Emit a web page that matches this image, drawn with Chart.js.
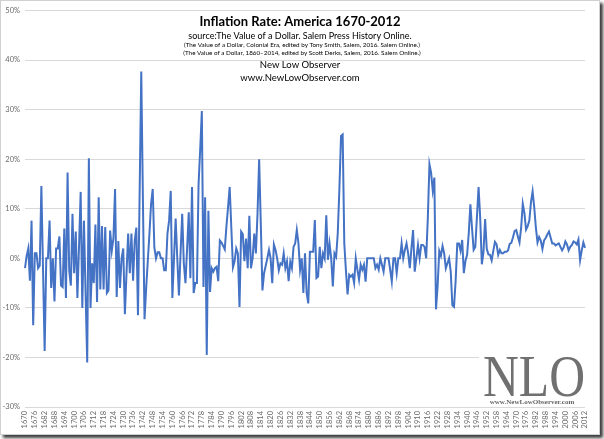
<!DOCTYPE html>
<html>
<head>
<meta charset="utf-8">
<script src="https://cdn.jsdelivr.net/npm/chart.js@4.4.0/dist/chart.umd.min.js"></script>
<style>
  html, body { margin: 0; padding: 0; background: #fff; }
  #frame { position: absolute; left: 0; top: 0; width: 598px; height: 433px; border: 1px solid #d0d0d0; box-shadow: 3px 3px 3px #3a3a3a; background: #fff; }
  canvas { display: block; }
</style>
</head>
<body>
<div id="frame"><canvas id="chart-inflation" width="598" height="433"></canvas></div>
<script>
// Data
var firstYear = 1670;
var lastYear = 2012;
var labelEvery = 6;

// inflation rate in %, one value per year, one row per decade
var inflation = [
    -2, 0.5, 2, -4.5, 7.6, -13.5, 1, 1, -2, -1.5,            // 1670
    14.6, -2, -18.7, 0, 0, 7.6, -6, 0, -8.7, 2,             // 1680
    2, 4.4, -5.5, -5.8, 6, -8, 17.3, -2.5, -5.5, 9,         // 1690
    -3, 5.4, -8, 2.5, 13.4, -10, 7.6, -7, -21, 20.2,        // 1700
    -10, -1, -5, 6.8, -8.8, 12.3, -6.3, 6.5, -6.3, 6.3,     // 1710
    -7, -6.5, 5.6, 1.5, 4, 14, -7.8, 3.5, -6, 0,            // 1720
    2, -11.3, -3, 5, -3, 5, -4.5, 3.5, 6.2, -11.5,          // 1730
    13, 37.7, 12, -12.3, -6, -0.5, 5, 11, 14, 2.2,          // 1740
    0, 1.2, 1.2, 0, 0, -2.4, -2.4, 5, 7.6, 13.6,            // 1750
    -8, 0, 8, 0, -7.5, 1, 9, -1, -5, 2,                     // 1760
    9.3, -4, 14.4, -7, -5, -5, 15, 22, 29.7, -5.8,          // 1770
    12.3, -19.5, 9.6, -6.8, -2, -2.7, -2, -1.7, -4.6, 3.6,  // 1780
    3.2, 2.5, 1.8, 6.4, 10.3, 14.4, 6.2, -1.8, -0.6, 2,     // 1790
    1, -9.8, 5.4, 4.9, -0.6, 4, -2, 8.6, -2, 0,             // 1800
    5, 1, 9, 20, 7, -6.5, -3, -1.5, 0, 1.7,                 // 1810
    0, -5, 2.8, 1.7, 0, -2.4, -1, -1.3, 1, -2,              // 1820
    -0.6, -4.6, -0.7, -2, 2.3, 3, 5.7, 3, -2.3, 0,          // 1830
    -7, 1, -7, -9.1, 1.3, 1.3, 1.3, 7.7, -4, -3.7,          // 1840
    2.3, -2, 1, 0, 8.7, -0.3, 3, 0, -5.7, 1,                // 1850
    0.3, 5, 14, 24.7, 25, 3, -2.5, -7.3, -3.3, -3.7,        // 1860
    -3.3, -5, 0, -2.3, -4.3, -1.3, -2.3, -1.3, -4.7, 0,     // 1870
    0, 0, 0, 0, -2, -1.3, -2.3, 0, -1.3, -2.7,              // 1880
    0, 0, 0, -2.3, -4.7, 0, 0, -3, 0, 0,                    // 1890
    3, 0, 1.7, 3, 1, -2, 2, 5.7, -2.7, 0,                   // 1900
    2.7, 0, 2.7, 2.7, 2.3, 0, 8, 19, 17.3, 13.7,            // 1910
    16.3, -10.3, -5.5, 1.5, 0.5, 2.5, 1, -2, -1, 0,         // 1920
    -2.7, -9.5, -9.8, -4.5, 3, 3, 1.5, 3.7, -3, -0.5,       // 1930
    0.7, 5, 10.9, 6.1, 1.7, 2.3, 8.3, 14.4, 8.1, -1.2,      // 1940
    1.3, 7.9, 1.9, 0.8, 0.7, -0.4, 1.5, 3.3, 2.8, 0.7,      // 1950
    1.7, 1.0, 1.0, 1.3, 1.3, 1.6, 2.9, 3.1, 4.2, 5.5,       // 1960
    5.7, 4.4, 3.2, 6.2, 11.0, 9.1, 5.8, 6.5, 7.6, 11.3,     // 1970
    13.5, 10.3, 6.2, 3.2, 4.3, 3.6, 1.9, 3.6, 4.1, 4.8,     // 1980
    5.4, 4.2, 3.0, 3.0, 2.6, 2.8, 3.0, 2.3, 1.6, 2.2,       // 1990
    3.4, 2.8, 1.6, 2.3, 2.7, 3.4, 3.2, 2.8, 3.8, -0.4,      // 2000
    1.6, 3.2, 2.1                                           // 2010
];

var years = [];
for (var y = firstYear; y <= lastYear; y++) years.push(String(y));

var titleLines = [
    "Inflation Rate: America 1670-2012",
    "source:The Value of a Dollar. Salem Press History Online.",
    "(The Value of a Dollar, Colonial Era, edited by Tony Smith, Salem, 2016. Salem Online.)",
    "(The Value of a Dollar, 1860\u20132014, edited by Scott Derks, Salem, 2016. Salem Online.)",
    "New Low Observer",
    "www.NewLowObserver.com"
];

// titles and logo drawn on top of the grid
var headerPlugin = {
    id: "header",
    afterDraw: function (chart) {
        var ctx = chart.ctx;
        ctx.save();
        ctx.textAlign = "center";
        ctx.textBaseline = "middle";
        ctx.fillStyle = "#000";
        var cx = 299;
        ctx.font = "bold 13px Lato";
        ctx.fillText(titleLines[0], cx, 21);
        ctx.font = "9px Lato";
        ctx.fillText(titleLines[1], cx, 35);
        ctx.font = "6.3px Lato";
        ctx.fillText(titleLines[2], cx + 2, 44);
        ctx.fillText(titleLines[3], cx + 2, 52);
        ctx.font = "9.5px Lato";
        ctx.fillText(titleLines[4], cx, 64);
        ctx.fillText(titleLines[5], cx, 77);

        // NLO logo
        ctx.fillStyle = "#fff";
        ctx.fillRect(478, 350, 110, 55);
        ctx.fillStyle = "#707070";
        ctx.textBaseline = "alphabetic";
        ctx.font = "60px 'Liberation Serif'";
        ctx.fillText("NLO", 533, 395, 102);
        ctx.fillStyle = "#666";
        ctx.font = "bold 7px 'Liberation Serif'";
        ctx.fillText("www.NewLowObserver.com", 531, 403, 96);
        ctx.restore();
    }
};

var ctx = document.getElementById("chart-inflation").getContext("2d");
var myChart = new Chart(ctx, {
    type: "line",
    data: {
        labels: years,
        datasets: [
            {
                label: "Inflation Rate",
                data: inflation,
                borderColor: "#4472c4",
                borderWidth: 2,
                pointRadius: 0,
                tension: 0,
                fill: false
            }
        ]
    },
    options: {
        responsive: false,
        animation: false,
        layout: {
            padding: { top: 8, right: 14, bottom: 0, left: 0 }
        },
        plugins: {
            legend: { display: false },
            tooltip: { enabled: false }
        },
        scales: {
            x: {
                offset: false,
                grid: { display: false, drawTicks: false },
                border: { display: false },
                ticks: {
                    autoSkip: false,
                    minRotation: 90,
                    maxRotation: 90,
                    padding: 4,
                    color: "#6a6a6a",
                    font: { family: "Lato", size: 7.5 },
                    callback: function (val, i) {
                        return (Number(years[i]) - firstYear) % labelEvery === 0 ? years[i] : null;
                    }
                },
                afterFit: function (scale) { scale.height = 27; }
            },
            y: {
                min: -30,
                max: 50,
                grid: { color: "#d9d9d9", drawTicks: false },
                border: { display: false },
                ticks: {
                    stepSize: 10,
                    padding: 5,
                    color: "#6a6a6a",
                    font: { family: "Lato", size: 7.5 },
                    callback: function (v) { return v + "%"; }
                },
                afterFit: function (scale) { scale.width = 24; }
            }
        }
    },
    plugins: [headerPlugin]
});
</script>
</body>
</html>
